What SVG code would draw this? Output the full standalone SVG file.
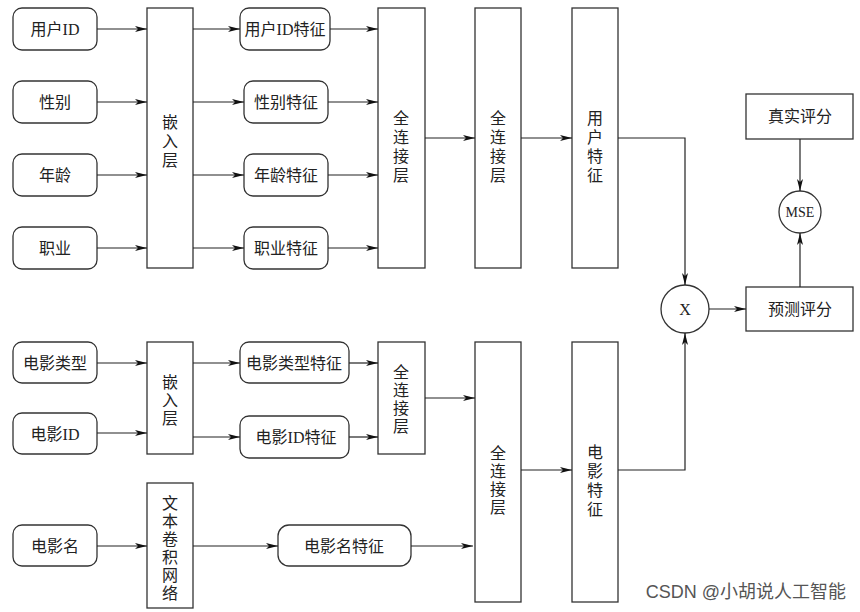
<svg xmlns="http://www.w3.org/2000/svg" width="860" height="612" viewBox="0 0 860 612">
<defs>
<marker id="a" viewBox="0 0 12 6" refX="12" refY="3" markerWidth="12" markerHeight="6" orient="auto" markerUnits="userSpaceOnUse"><path d="M0,0L12,3L0,6L3,3z" fill="#111"/></marker>
<style>
rect,circle{fill:#fff;stroke:#333;stroke-width:1.3}
text{font-family:"Liberation Serif","Noto Sans CJK SC",serif;font-size:16px;fill:#222;text-anchor:middle;dominant-baseline:central}
.c path{fill:none;stroke:#222;stroke-width:1.2;marker-end:url(#a)}
.w{font-family:"Liberation Sans","Noto Sans CJK SC",sans-serif;font-size:18px;fill:#555;text-anchor:end}
</style>
</defs>
<rect x="0" y="0" width="860" height="612" style="stroke:none"/>
<g id="uid"><rect x="13" y="8" width="84" height="42" rx="9"/><text x="55" y="29">用户ID</text></g>
<g id="sex"><rect x="13" y="81" width="84" height="42" rx="9"/><text x="55" y="102">性别</text></g>
<g id="age"><rect x="13" y="154" width="84" height="42" rx="9"/><text x="55" y="175">年龄</text></g>
<g id="job"><rect x="13" y="227" width="84" height="42" rx="9"/><text x="55" y="248">职业</text></g>
<g id="emb1"><rect x="147" y="8" width="46" height="260"/><text x="170" y="122">嵌</text><text x="170" y="141">入</text><text x="170" y="160">层</text></g>
<g id="f_uid"><rect x="240" y="8" width="90" height="42" rx="9"/><text x="285" y="29">用户ID特征</text></g>
<g id="f_sex"><rect x="244" y="81" width="84" height="42" rx="9"/><text x="286" y="102">性别特征</text></g>
<g id="f_age"><rect x="244" y="154" width="84" height="42" rx="9"/><text x="286" y="175">年龄特征</text></g>
<g id="f_job"><rect x="244" y="227" width="84" height="42" rx="9"/><text x="286" y="248">职业特征</text></g>
<g id="fc1"><rect x="378" y="8" width="47" height="260"/><text x="401" y="118">全</text><text x="401" y="137">连</text><text x="401" y="156">接</text><text x="401" y="175">层</text></g>
<g id="fc2"><rect x="475" y="8" width="46" height="260"/><text x="498" y="118">全</text><text x="498" y="137">连</text><text x="498" y="156">接</text><text x="498" y="175">层</text></g>
<g id="ufeat"><rect x="572" y="8" width="46" height="260"/><text x="595" y="118">用</text><text x="595" y="137">户</text><text x="595" y="156">特</text><text x="595" y="175">征</text></g>
<g id="x"><circle cx="685" cy="309" r="24"/><text x="685" y="309">X</text></g>
<g id="pred"><rect x="746" y="287" width="107" height="44"/><text x="800" y="309">预测评分</text></g>
<g id="mse"><circle cx="800" cy="212" r="21"/><text x="800" y="212" style="font-size:14px">MSE</text></g>
<g id="real"><rect x="746" y="94" width="107" height="45"/><text x="800" y="116">真实评分</text></g>
<g id="mtype"><rect x="13" y="342" width="84" height="41" rx="9"/><text x="55" y="363">电影类型</text></g>
<g id="mid"><rect x="13" y="413" width="84" height="41" rx="9"/><text x="55" y="434">电影ID</text></g>
<g id="mname"><rect x="13" y="525" width="84" height="41" rx="9"/><text x="55" y="546">电影名</text></g>
<g id="emb2"><rect x="147" y="342" width="46" height="112"/><text x="170" y="382">嵌</text><text x="170" y="400">入</text><text x="170" y="418">层</text></g>
<g id="cnn"><rect x="147" y="483" width="46" height="125"/><text x="170" y="503">文</text><text x="170" y="521">本</text><text x="170" y="539">卷</text><text x="170" y="557">积</text><text x="170" y="575">网</text><text x="170" y="593">络</text></g>
<g id="f_mtype"><rect x="240" y="342" width="109" height="41" rx="9"/><text x="294" y="363">电影类型特征</text></g>
<g id="f_mid"><rect x="240" y="416" width="109" height="42" rx="9"/><text x="296" y="437">电影ID特征</text></g>
<g id="f_mname"><rect x="278" y="525" width="133" height="41" rx="11"/><text x="344" y="546">电影名特征</text></g>
<g id="fc3"><rect x="378" y="342" width="47" height="112"/><text x="401" y="372">全</text><text x="401" y="390">连</text><text x="401" y="408">接</text><text x="401" y="426">层</text></g>
<g id="fc4"><rect x="475" y="342" width="46" height="260"/><text x="498" y="453">全</text><text x="498" y="471">连</text><text x="498" y="489">接</text><text x="498" y="507">层</text></g>
<g id="mfeat"><rect x="572" y="342" width="46" height="260"/><text x="595" y="452">电</text><text x="595" y="471">影</text><text x="595" y="490">特</text><text x="595" y="509">征</text></g>
<g class="c">
<path d="M97,29H147"/><path d="M97,102H147"/><path d="M97,175H147"/><path d="M97,248H147"/>
<path d="M193,29H240"/><path d="M193,102H244"/><path d="M193,175H244"/><path d="M193,248H244"/>
<path d="M330,29H378"/><path d="M328,102H378"/><path d="M328,175H378"/><path d="M328,248H378"/>
<path d="M425,138H475"/><path d="M521,138H572"/>
<path d="M618,138H685V285"/>
<path d="M709,309H746"/>
<path d="M800,287V233"/><path d="M800,139V191"/>
<path d="M97,363H147"/><path d="M97,433H147"/>
<path d="M193,363H240"/><path d="M193,437H240"/>
<path d="M349,363H378"/><path d="M349,437H378"/>
<path d="M425,398H475"/>
<path d="M97,546H147"/><path d="M193,546H278"/><path d="M411,546H473"/>
<path d="M521,470H572"/>
<path d="M618,470H685V333"/>
</g>
<text class="w" x="846" y="592">CSDN @小胡说人工智能</text>
</svg>
